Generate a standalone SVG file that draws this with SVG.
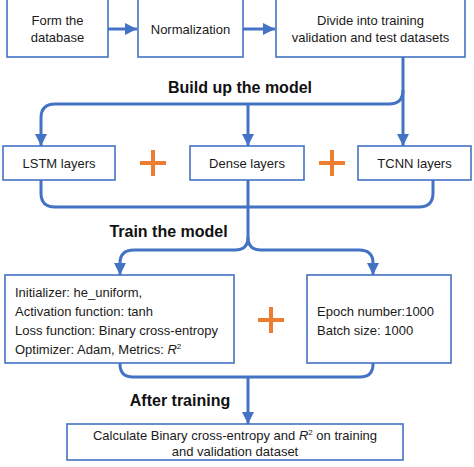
<svg xmlns="http://www.w3.org/2000/svg" width="474" height="467" viewBox="0 0 474 467">
<defs>
<marker id="ah" markerUnits="userSpaceOnUse" markerWidth="14" markerHeight="14" viewBox="0 0 14 14" refX="12" refY="7" orient="auto">
<path d="M0,1 L12,7 L0,13 Z" fill="#4472C4"/>
</marker>
<style>
.box{fill:#fff;stroke:#4472C4;stroke-width:1.6}
.con{fill:none;stroke:#4472C4;stroke-width:3}
.t{font-family:"Liberation Sans",Arial,sans-serif;font-size:13px;fill:#1a1a1a}
.c{text-anchor:middle}
.b{font-family:"Liberation Sans",Arial,sans-serif;font-size:16px;font-weight:bold;fill:#111;text-anchor:middle}
.plus{stroke:#ED7D31;stroke-width:4;fill:none}
</style>
</defs>
<rect width="474" height="467" fill="#fff"/>
<g id="connectors">
<path class="con" d="M108,29 H137" marker-end="url(#ah)"/>
<path class="con" d="M243,29 H275" marker-end="url(#ah)"/>
<path class="con" d="M403,57 V146" marker-end="url(#ah)"/>
<path class="con" d="M403,90 Q403,104 389,104 H55 Q41,104 41,118 V146" marker-end="url(#ah)"/>
<path class="con" d="M248,104 V146" marker-end="url(#ah)"/>
<path class="con" d="M41,180 V193 Q41,207 55,207 H419 Q433,207 433,193 V180"/>
<path class="con" d="M248,180 V237 Q248,250 235,250 H134 Q120,250 120,263 V275" marker-end="url(#ah)"/>
<path class="con" d="M248,237 Q248,250 261,250 H359 Q373,250 373,263 V275" marker-end="url(#ah)"/>
<path class="con" d="M120,363 V364 Q120,377 133,377 H360 Q373,377 373,364 V363"/>
<path class="con" d="M248,377 V424" marker-end="url(#ah)"/>
</g>
<g id="n_form"><rect class="box" x="7" y="-1" width="101" height="58"/>
<text class="t c" x="57.5" y="25">Form the</text><text class="t c" x="57.5" y="42">database</text></g>
<g id="n_norm"><rect class="box" x="138" y="-1" width="105" height="58"/>
<text class="t c" x="190.5" y="34">Normalization</text></g>
<g id="n_divide"><rect class="box" x="276" y="-1" width="189" height="58"/>
<text class="t c" x="370.5" y="25">Divide into training</text><text class="t c" x="370.5" y="42">validation and test datasets</text></g>
<text class="b" x="240" y="93">Build up the model</text>
<g id="n_lstm"><rect class="box" x="3" y="146" width="112" height="34"/>
<text class="t c" x="59" y="168">LSTM layers</text></g>
<g id="n_dense"><rect class="box" x="190" y="146" width="114" height="34"/>
<text class="t c" x="247" y="168">Dense layers</text></g>
<g id="n_tcnn"><rect class="box" x="358" y="146" width="113" height="34"/>
<text class="t c" x="414.5" y="168">TCNN layers</text></g>
<path class="plus" d="M140,163 H166 M153,150 V176"/>
<path class="plus" d="M319,163 H345 M332,150 V176"/>
<text class="b" x="168.5" y="237">Train the model</text>
<g id="n_params"><rect class="box" x="5" y="275" width="229" height="88"/>
<text class="t" x="15" y="297">Initializer: he_uniform,</text>
<text class="t" x="15" y="316">Activation function: tanh</text>
<text class="t" x="15" y="335">Loss function: Binary cross-entropy</text>
<text class="t" x="15" y="354">Optimizer: Adam, Metrics: <tspan font-style="italic">R</tspan><tspan font-size="8" dy="-5">2</tspan></text></g>
<path class="plus" d="M258,320 H284 M271,307 V333"/>
<g id="n_epoch"><rect class="box" x="307" y="275" width="144" height="88"/>
<text class="t" x="317" y="316">Epoch number:1000</text>
<text class="t" x="317" y="335">Batch size: 1000</text></g>
<text class="b" x="180" y="406">After training</text>
<g id="n_calc"><rect class="box" x="67" y="424" width="336" height="36"/>
<text class="t c" x="235" y="440">Calculate Binary cross-entropy and <tspan font-style="italic">R</tspan><tspan font-size="8" dy="-5">2</tspan><tspan dy="5"> on training</tspan></text>
<text class="t c" x="235" y="456">and validation dataset</text></g>
</svg>
